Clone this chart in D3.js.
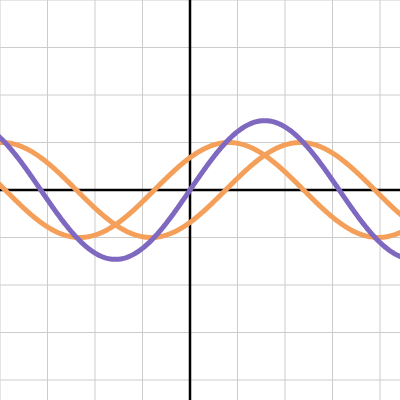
<!DOCTYPE html>
<html><head><meta charset="utf-8">
<script src="https://cdn.jsdelivr.net/npm/d3@7"></script>
<style>body{margin:0;background:#fff}svg{display:block}</style>
</head><body>
<svg id="c" width="400" height="400"></svg>
<script>
const seriesNames = ["orangeA", "orangeB", "purple"];
const amplitudes = [1, 1, 1.46];
const phases = [0.75, -0.75, 0];
const colors = ["#f5a05a", "#f5a05a", "#7f68c0"];
const gridTicks = [-4, -3, -2, -1, 1, 2, 3, 4];

const W = 400, H = 400;
const x = d3.scaleLinear().domain([-4, 400/47.5 - 4]).range([0, W]);
const y = d3.scaleLinear().domain([4, 4 - 400/47.5]).range([0, H]);
const svg = d3.select("#c");

svg.append("g").selectAll("line").data(gridTicks).join("line")
  .attr("x1", d => x(d)).attr("x2", d => x(d)).attr("y1", 0).attr("y2", H)
  .attr("stroke", "#ccc").attr("stroke-width", 1);
svg.append("g").selectAll("line").data(gridTicks).join("line")
  .attr("y1", d => y(d)).attr("y2", d => y(d)).attr("x1", 0).attr("x2", W)
  .attr("stroke", "#ccc").attr("stroke-width", 1);

svg.append("line").attr("x1", x(0)).attr("x2", x(0)).attr("y1", 0).attr("y2", H)
  .attr("stroke", "#000").attr("stroke-width", 2.5);
svg.append("line").attr("y1", y(0)).attr("y2", y(0)).attr("x1", 0).attr("x2", W)
  .attr("stroke", "#000").attr("stroke-width", 2.5);

const xs = d3.range(-4.2, 4.6, 0.02);
const line = d3.line().x(d => x(d[0])).y(d => y(d[1]));
seriesNames.forEach((n, i) => {
  const pts = xs.map(t => [t, amplitudes[i] * Math.sin(t + phases[i])]);
  svg.append("path").attr("d", line(pts)).attr("fill", "none")
    .attr("stroke", colors[i]).attr("stroke-width", 5).attr("stroke-linecap", "round");
});
</script>
</body></html>
